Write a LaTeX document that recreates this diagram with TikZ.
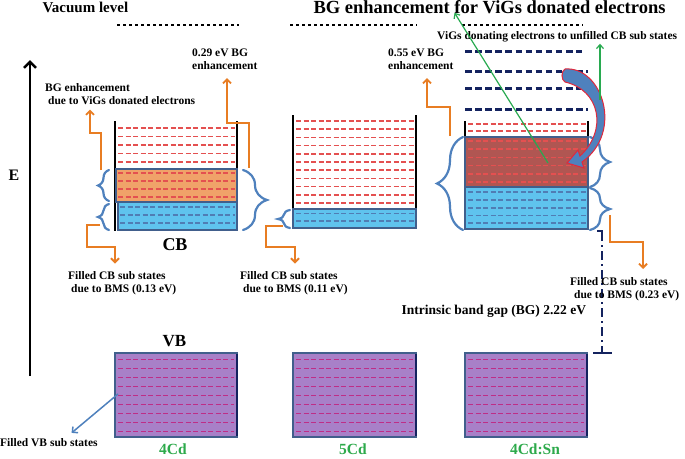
\documentclass[tikz,border=0pt]{standalone}
\usepackage{fontspec}
\setmainfont{Liberation Serif}
\usepackage{xcolor}
\usepackage{tikz}
\usetikzlibrary{positioning,calc,arrows.meta,decorations.pathreplacing}

\definecolor{cbOrange}{RGB}{240,162,105}
\definecolor{cbBlue}{RGB}{95,195,238}
\definecolor{cbBrown}{RGB}{176,86,82}
\definecolor{vbPurple}{RGB}{168,128,200}
\definecolor{lineOrange}{RGB}{232,125,35}
\definecolor{braceBlue}{RGB}{79,129,189}
\definecolor{boxEdge}{RGB}{65,95,140}
\definecolor{navyDash}{RGB}{20,35,95}
\definecolor{redDash}{RGB}{228,80,80}
\definecolor{blueDash}{RGB}{80,125,180}
\definecolor{vbDash}{RGB}{190,45,135}
\definecolor{arrowGreen}{RGB}{40,170,80}
\definecolor{nameGreen}{RGB}{45,170,75}
\definecolor{curveRed}{RGB}{225,40,60}

\tikzset{
  lbl/.style={font=\bfseries\fontsize{11.5}{13}\selectfont, align=left, inner sep=2pt},
  samplename/.style={font=\bfseries\fontsize{15.5}{18}\selectfont, text=nameGreen, anchor=base},
  bandtext/.style={font=\bfseries\fontsize{18}{20}\selectfont, anchor=base},
  wall/.style={line width=2.5pt},
  vacdots/.style={line width=2.5pt, dash pattern=on 2.5pt off 3.5pt},
  reddash/.style={redDash, line width=1.7pt, dash pattern=on 5pt off 2.5pt},
  bluedash/.style={blueDash, line width=1.6pt, dash pattern=on 5pt off 2.5pt},
  vbdash/.style={vbDash, line width=1.5pt, dash pattern=on 5pt off 2.5pt},
  navydash/.style={navyDash, line width=3pt, dash pattern=on 6.5pt off 3.6pt},
  bandbox/.style={draw=boxEdge, line width=1.2pt},
  bandbrace/.style={braceBlue, line width=2.2pt, line cap=round, decorate, decoration={brace, amplitude=#1}},
  orangearrow/.style={lineOrange, line width=1.8pt, shorten >=6pt, -{Straight Barb[length=4pt,width=8pt]}},
  greenarrow/.style={arrowGreen, line width=1.2pt, -{Straight Barb[length=4pt,width=7pt]}},
}

\begin{document}
\begin{tikzpicture}[x=1pt,y=-1pt]
    \fill[white] (0,0) rectangle (685,458);
    \useasboundingbox (0,0) rectangle (685,458);

    % Vacuum level
    \node[font=\bfseries\fontsize{15}{18}\selectfont, anchor=base west] (vac) at (39,12.5) {Vacuum level};
    \node[font=\bfseries\fontsize{18.5}{22}\selectfont, anchor=base west] (title) at (310,13) {BG enhancement for ViGs donated electrons};
    \foreach \a/\b in {117/239, 290/417, 462/583}
        \draw[vacdots] (\a,25) -- (\b,25);

    % Energy axis
    \draw[line width=2.5pt, -{Straight Barb[length=6pt,width=12pt]}] (30,376) -- (30,60);
    \node[font=\bfseries\fontsize{16}{18}\selectfont, anchor=base west] (E) at (5,180) {E};

    % 4Cd conduction band
    \draw[wall] (115,121) -- (115,231);
    \draw[wall] (237,121) -- (237,170);
    \foreach \y in {128,136.5,145,153.5,162}
        \draw[reddash] (118,\y) -- (235,\y);
    \filldraw[bandbox, fill=cbOrange] (116,169) rectangle (237,202);
    \foreach \y in {173,181,189,197}
        \draw[reddash] (118,\y) -- (235,\y);
    \filldraw[bandbox, fill=cbBlue] (118,202) rectangle (237,230);
    \foreach \y in {207,215,223}
        \draw[bluedash] (120,\y) -- (235,\y);
    \draw[bandbrace=11] (109,201) -- (109,170);
    \draw[bandbrace=11] (109,230) -- (109,204);
    \draw[bandbrace=24] (243,170) -- (243,230);
    \node[bandtext] (cb) at (175,250) {CB};

    % 5Cd conduction band
    \draw[wall] (293,115) -- (293,210);
    \draw[wall] (416,115) -- (416,210);
    \foreach \i in {0,...,10}
        \draw[reddash] (296,{121+8.2*\i}) -- (414,{121+8.2*\i});
    \filldraw[bandbox, fill=cbBlue] (293,209) rectangle (416,228);
    \foreach \y in {213.5,221}
        \draw[bluedash] (296,\y) -- (414,\y);
    \draw[bandbrace=12] (290,228) -- (290,210);

    % 4Cd:Sn conduction band
    \draw[navydash] (465,51) -- (582,51);
    \foreach \y in {71,88,109}
        \draw[navydash] (465,\y) -- (588,\y);
    \draw[wall] (465,121) -- (465,137);
    \draw[wall] (588,121) -- (588,137);
    \foreach \y in {124,131}
        \draw[reddash] (468,\y) -- (586,\y);
    \filldraw[bandbox, fill=cbBrown] (465,137) rectangle (588,187);
    \foreach \i in {0,...,5}
        \draw[reddash] (468,{141+8.2*\i}) -- (586,{141+8.2*\i});
    \filldraw[bandbox, fill=cbBlue] (465,187) rectangle (588,229);
    \foreach \y in {192,200,208,215.5,223}
        \draw[bluedash] (468,\y) -- (586,\y);
    \draw[bandbrace=26] (463,230) -- (463,137);
    \draw[bandbrace=20] (590,137) -- (590,187);
    \draw[bandbrace=20] (590,188) -- (590,230);

    % Intrinsic gap marker
    \draw[navyDash, line width=2pt] (597,231) -- (603,231);
    \draw[navyDash, line width=2.2pt, dash pattern=on 9pt off 4pt on 2pt off 4pt] (602,232) -- (602,352);
    \draw[navyDash, line width=2pt] (593,353) -- (612,353);
    \node[font=\bfseries\fontsize{13.5}{16}\selectfont, anchor=base west] (gap) at (398,314) {Intrinsic band gap (BG) 2.22 eV};

    % Valence bands
    \foreach \xa/\xb in {115/237, 293/416, 465/587} {
        \filldraw[fill=vbPurple, draw=boxEdge, line width=1.5pt] (\xa,353) rectangle (\xb,437);
        \foreach \i in {0,...,8}
            \draw[vbdash] ({\xa+3},{359.3+9.05*\i}) -- ({\xb-3},{359.3+9.05*\i});
        \draw[navyDash, line width=2.5pt] (\xb,354) -- (\xb,436);
    }
    \node[bandtext, font=\bfseries\fontsize{17}{20}\selectfont] (vb) at (174.5,346) {VB};
    \node[samplename] (s4cd) at (173,454) {4Cd};
    \node[samplename] (s5cd) at (353,454) {5Cd};
    \node[samplename] (s4cdsn) at (535,454) {4Cd:Sn};

    % ViGs electrons dropping into CB
    \filldraw[fill=braceBlue, draw=curveRed, line width=1pt]
        (565,69) .. controls (602,66) and (624,132) .. (582,162) -- (584,168) -- (567,163)
        -- (578,150) -- (580,156) .. controls (608,130) and (600,90) .. (565,82)
        .. controls (561,80) and (561,71) .. (565,69) -- cycle;

    % Labels
    \node[lbl, anchor=north west] (enh4) at (43,81) {BG enhancement\\ \hspace*{3pt}due to ViGs donated electrons};
    \node[lbl, anchor=north west] (bg29) at (190,47) {0.29 eV BG\\enhancement};
    \node[lbl, anchor=north west] (bg55) at (386,47) {0.55 eV BG\\enhancement};
    \node[lbl, anchor=north west] (fill13) at (66,269.5) {Filled CB sub states\\ \hspace*{3pt}due to BMS (0.13 eV)};
    \node[lbl, anchor=north west] (fill11) at (238,269.5) {Filled CB sub states\\ \hspace*{3pt}due to BMS (0.11 eV)};
    \node[lbl, anchor=north west] (fill23) at (568,275) {Filled CB sub states\\ \hspace*{4pt}due to BMS (0.23 eV)};
    \node[lbl, anchor=base west] (vigs) at (435,39) {ViGs donating electrons to unfilled CB sub states};
    \node[lbl, anchor=west] (fillvb) at (-2,443) {Filled VB sub states};

    % Orange pointers
    \coordinate (enh4src) at (101,170);
    \draw[orangearrow, shorten >=3pt] (enh4src) |- (90,133) -- (90,133 |- enh4.south);
    \coordinate (bg29src) at (249,168);
    \draw[orangearrow] (bg29src) |- (227,123) -- (227,123 |- bg29.south);
    \coordinate (bg55src) at (450,136);
    \draw[orangearrow] (bg55src) |- (427,107) -- (427,107 |- bg55.south);
    \coordinate (fill13src) at (100,225);
    \draw[orangearrow] (fill13src) -| (87,247) -- (115,247) -- (115,247 |- fill13.north);
    \coordinate (fill11src) at (283,226);
    \draw[orangearrow] (fill11src) -| (266,247) -- (295,247) -- (295,247 |- fill11.north);
    \coordinate (fill23src) at (610,215);
    \draw[orangearrow] (fill23src) |- (643,242) -- (643,242 |- fill23.north);

    % Green pointers
    \coordinate (vigsdot) at (548,163);
    \draw[greenarrow] (vigsdot) -- ($(title.south)+(-35,-4)$);
    \coordinate (curvetop) at (600,100);
    \draw[greenarrow] (curvetop) -- (curvetop |- vigs.south);

    % VB pointer
    \coordinate (vbpt) at (118,394);
    \draw[braceBlue, line width=1.5pt, shorten >=6pt, -{Straight Barb[length=4pt,width=8pt]}] (vbpt) -- (fillvb.north -| 67,0);
\end{tikzpicture}
\end{document}
